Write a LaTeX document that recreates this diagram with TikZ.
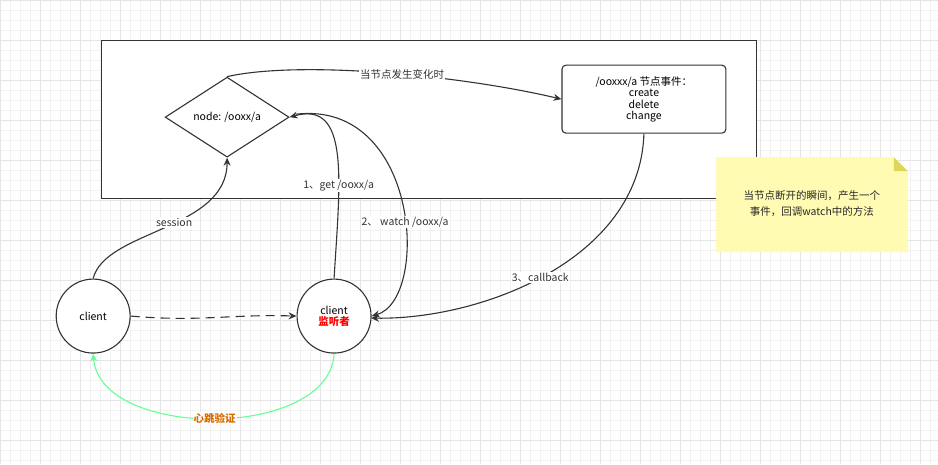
\documentclass[tikz,border=0pt]{standalone}
\usepackage{fontspec}
\setmainfont{Noto Sans CJK SC}
\usetikzlibrary{arrows.meta,shapes.geometric}
\begin{document}
\begin{tikzpicture}[x=1pt,y=-1pt,font=\fontsize{10.5}{12}\selectfont,
  line/.style={draw=black!80,line width=1.1pt},
  arr/.style={line,-{Stealth[length=8pt,width=7pt]}},
  lbl/.style={fill=white,inner sep=1pt,text=black!80}]
\fill[white] (0,0) rectangle (938,464);
\foreach \i in {0,10,...,930} \draw[black!5] (\i,0) -- (\i,464);
\foreach \i in {0,10,...,460} \draw[black!5] (0,\i) -- (938,\i);
\foreach \i in {0,40,...,930} \draw[black!10] (\i,0) -- (\i,464);
\foreach \i in {0,40,...,460} \draw[black!10] (0,\i) -- (938,\i);
\useasboundingbox (0,0) rectangle (938,464);
\node[line,fill=white,minimum width=656pt,minimum height=158pt,inner sep=0] (box) at (429,119) {};
\node[line,diamond,fill=white,minimum width=124pt,minimum height=80pt,inner sep=0,aspect=1.55] (nd) at (227,117) {node: /ooxx/a};
\node[line,rounded corners=4pt,fill=white,minimum width=164pt,minimum height=68pt,align=center,inner sep=1pt,font=\fontsize{10.5}{11.5}\selectfont] (ev) at (644,99) {/ooxxx/a 节点事件：\\create\\delete\\change};
\node[line,circle,fill=white,minimum size=74pt] (c1) at (93,316) {client};
\node[line,circle,fill=white,minimum size=74pt,align=center] (c2) at (334,316) {client\\[-1pt]\textcolor{red}{\bfseries 监听者}};
\draw[arr] (nd.north) .. controls (300,60) and (460,75) .. node[lbl,pos=0.55]{当节点发生变化时} (ev.west);
\draw[arr] (c1.north) .. controls (105,230) and (227,230) .. node[lbl,pos=0.55]{session} (nd.south);
\draw[arr,dashed,dash pattern=on 9pt off 6pt] (c1.east) .. controls (200,322) and (230,314) .. (c2.west);
\draw[arr] (c2.north) .. controls (340,180) and (350,100) .. node[lbl,pos=0.35]{1、get /ooxx/a} (nd.east);
\draw[arr] (296,114) .. controls (420,100) and (430,300) .. node[lbl,pos=0.56]{2、 watch /ooxx/a} (c2.east);
\draw[arr] (ev.south) .. controls (640,260) and (480,320) .. node[lbl,pos=0.52]{3、callback} (371,318);
\draw[line,draw=green!70!cyan!60,-{Stealth[length=8pt,width=7pt]}] (c2.south) .. controls (330,440) and (100,440) .. node[fill=white,inner sep=1pt,text=orange!85!black,font=\bfseries\fontsize{10.5}{12}\selectfont,pos=0.5]{心跳验证} (c1.south);
\fill[yellow!30!white] (716,157) -- (894,157) -- (908,171) -- (908,252) -- (716,252) -- cycle;
\fill[yellow!50!olive!60] (894,157) -- (894,171) -- (908,171) -- cycle;
\node[align=center,font=\fontsize{10.5}{16}\selectfont,text=black!85] (note) at (812,204) {当节点断开的瞬间，产生一个\\事件，回调watch中的方法};
\end{tikzpicture}
\end{document}
